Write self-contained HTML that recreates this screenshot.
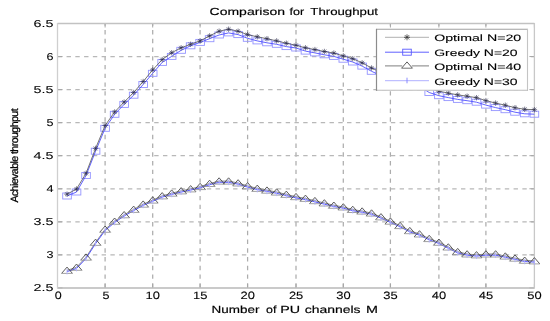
<!DOCTYPE html><html><head><meta charset="utf-8"><style>html,body{margin:0;padding:0;background:#fff;}svg{display:block;}text{font-family:"Liberation Sans",Arial,sans-serif;fill:#000;text-rendering:geometricPrecision;}</style></head><body>
<svg width="550" height="321" viewBox="0 0 550 321">
<rect width="550" height="321" fill="#fff"/>
<line x1="105.10" y1="23.50" x2="105.10" y2="287.90" stroke="#adadad" stroke-width="1.25" stroke-dasharray="4.4 4.33" stroke-dashoffset="2.2"/>
<line x1="152.70" y1="23.50" x2="152.70" y2="287.90" stroke="#adadad" stroke-width="1.25" stroke-dasharray="4.4 4.33" stroke-dashoffset="2.2"/>
<line x1="200.10" y1="23.50" x2="200.10" y2="287.90" stroke="#adadad" stroke-width="1.25" stroke-dasharray="4.4 4.33" stroke-dashoffset="2.2"/>
<line x1="247.60" y1="23.50" x2="247.60" y2="287.90" stroke="#adadad" stroke-width="1.25" stroke-dasharray="4.4 4.33" stroke-dashoffset="2.2"/>
<line x1="296.00" y1="23.50" x2="296.00" y2="287.90" stroke="#adadad" stroke-width="1.25" stroke-dasharray="4.4 4.33" stroke-dashoffset="2.2"/>
<line x1="343.30" y1="23.50" x2="343.30" y2="287.90" stroke="#adadad" stroke-width="1.25" stroke-dasharray="4.4 4.33" stroke-dashoffset="2.2"/>
<line x1="390.40" y1="23.50" x2="390.40" y2="287.90" stroke="#adadad" stroke-width="1.25" stroke-dasharray="4.4 4.33" stroke-dashoffset="2.2"/>
<line x1="438.90" y1="23.50" x2="438.90" y2="287.90" stroke="#adadad" stroke-width="1.25" stroke-dasharray="4.4 4.33" stroke-dashoffset="2.2"/>
<line x1="485.90" y1="23.50" x2="485.90" y2="287.90" stroke="#adadad" stroke-width="1.25" stroke-dasharray="4.4 4.33" stroke-dashoffset="2.2"/>
<line x1="57.50" y1="254.85" x2="534.40" y2="254.85" stroke="#b8b8b8" stroke-width="1.25" stroke-dasharray="4.4 4.365" stroke-dashoffset="-0.3"/>
<line x1="57.50" y1="221.80" x2="534.40" y2="221.80" stroke="#b8b8b8" stroke-width="1.25" stroke-dasharray="4.4 4.365" stroke-dashoffset="-0.3"/>
<line x1="57.50" y1="188.75" x2="534.40" y2="188.75" stroke="#b8b8b8" stroke-width="1.25" stroke-dasharray="4.4 4.365" stroke-dashoffset="-0.3"/>
<line x1="57.50" y1="155.70" x2="534.40" y2="155.70" stroke="#b8b8b8" stroke-width="1.25" stroke-dasharray="4.4 4.365" stroke-dashoffset="-0.3"/>
<line x1="57.50" y1="122.65" x2="534.40" y2="122.65" stroke="#b8b8b8" stroke-width="1.25" stroke-dasharray="4.4 4.365" stroke-dashoffset="-0.3"/>
<line x1="57.50" y1="89.60" x2="534.40" y2="89.60" stroke="#b8b8b8" stroke-width="1.25" stroke-dasharray="4.4 4.365" stroke-dashoffset="-0.3"/>
<line x1="57.50" y1="56.55" x2="534.40" y2="56.55" stroke="#b8b8b8" stroke-width="1.25" stroke-dasharray="4.4 4.365" stroke-dashoffset="-0.3"/>
<line x1="57.50" y1="287.90" x2="57.50" y2="283.90" stroke="#a6a6a6" stroke-width="1"/>
<line x1="57.50" y1="23.50" x2="57.50" y2="27.50" stroke="#a6a6a6" stroke-width="1"/>
<line x1="105.10" y1="287.90" x2="105.10" y2="283.90" stroke="#a6a6a6" stroke-width="1"/>
<line x1="105.10" y1="23.50" x2="105.10" y2="27.50" stroke="#a6a6a6" stroke-width="1"/>
<line x1="152.70" y1="287.90" x2="152.70" y2="283.90" stroke="#a6a6a6" stroke-width="1"/>
<line x1="152.70" y1="23.50" x2="152.70" y2="27.50" stroke="#a6a6a6" stroke-width="1"/>
<line x1="200.10" y1="287.90" x2="200.10" y2="283.90" stroke="#a6a6a6" stroke-width="1"/>
<line x1="200.10" y1="23.50" x2="200.10" y2="27.50" stroke="#a6a6a6" stroke-width="1"/>
<line x1="247.60" y1="287.90" x2="247.60" y2="283.90" stroke="#a6a6a6" stroke-width="1"/>
<line x1="247.60" y1="23.50" x2="247.60" y2="27.50" stroke="#a6a6a6" stroke-width="1"/>
<line x1="296.00" y1="287.90" x2="296.00" y2="283.90" stroke="#a6a6a6" stroke-width="1"/>
<line x1="296.00" y1="23.50" x2="296.00" y2="27.50" stroke="#a6a6a6" stroke-width="1"/>
<line x1="343.30" y1="287.90" x2="343.30" y2="283.90" stroke="#a6a6a6" stroke-width="1"/>
<line x1="343.30" y1="23.50" x2="343.30" y2="27.50" stroke="#a6a6a6" stroke-width="1"/>
<line x1="390.40" y1="287.90" x2="390.40" y2="283.90" stroke="#a6a6a6" stroke-width="1"/>
<line x1="390.40" y1="23.50" x2="390.40" y2="27.50" stroke="#a6a6a6" stroke-width="1"/>
<line x1="438.90" y1="287.90" x2="438.90" y2="283.90" stroke="#a6a6a6" stroke-width="1"/>
<line x1="438.90" y1="23.50" x2="438.90" y2="27.50" stroke="#a6a6a6" stroke-width="1"/>
<line x1="485.90" y1="287.90" x2="485.90" y2="283.90" stroke="#a6a6a6" stroke-width="1"/>
<line x1="485.90" y1="23.50" x2="485.90" y2="27.50" stroke="#a6a6a6" stroke-width="1"/>
<line x1="534.40" y1="287.90" x2="534.40" y2="283.90" stroke="#a6a6a6" stroke-width="1"/>
<line x1="534.40" y1="23.50" x2="534.40" y2="27.50" stroke="#a6a6a6" stroke-width="1"/>
<line x1="57.50" y1="287.90" x2="62.50" y2="287.90" stroke="#a6a6a6" stroke-width="1"/>
<line x1="534.40" y1="287.90" x2="529.40" y2="287.90" stroke="#a6a6a6" stroke-width="1"/>
<line x1="57.50" y1="254.85" x2="62.50" y2="254.85" stroke="#a6a6a6" stroke-width="1"/>
<line x1="534.40" y1="254.85" x2="529.40" y2="254.85" stroke="#a6a6a6" stroke-width="1"/>
<line x1="57.50" y1="221.80" x2="62.50" y2="221.80" stroke="#a6a6a6" stroke-width="1"/>
<line x1="534.40" y1="221.80" x2="529.40" y2="221.80" stroke="#a6a6a6" stroke-width="1"/>
<line x1="57.50" y1="188.75" x2="62.50" y2="188.75" stroke="#a6a6a6" stroke-width="1"/>
<line x1="534.40" y1="188.75" x2="529.40" y2="188.75" stroke="#a6a6a6" stroke-width="1"/>
<line x1="57.50" y1="155.70" x2="62.50" y2="155.70" stroke="#a6a6a6" stroke-width="1"/>
<line x1="534.40" y1="155.70" x2="529.40" y2="155.70" stroke="#a6a6a6" stroke-width="1"/>
<line x1="57.50" y1="122.65" x2="62.50" y2="122.65" stroke="#a6a6a6" stroke-width="1"/>
<line x1="534.40" y1="122.65" x2="529.40" y2="122.65" stroke="#a6a6a6" stroke-width="1"/>
<line x1="57.50" y1="89.60" x2="62.50" y2="89.60" stroke="#a6a6a6" stroke-width="1"/>
<line x1="534.40" y1="89.60" x2="529.40" y2="89.60" stroke="#a6a6a6" stroke-width="1"/>
<line x1="57.50" y1="56.55" x2="62.50" y2="56.55" stroke="#a6a6a6" stroke-width="1"/>
<line x1="534.40" y1="56.55" x2="529.40" y2="56.55" stroke="#a6a6a6" stroke-width="1"/>
<line x1="57.50" y1="23.50" x2="62.50" y2="23.50" stroke="#a6a6a6" stroke-width="1"/>
<line x1="534.40" y1="23.50" x2="529.40" y2="23.50" stroke="#a6a6a6" stroke-width="1"/>
<path d="M57.50,23.50H534.40" stroke="#c2c2c2" stroke-width="1.3" fill="none"/>
<path d="M57.50,287.90H534.40" stroke="#b8b8b8" stroke-width="1.5" fill="none"/>
<path d="M57.50,22.90V288.60" stroke="#cfcfcf" stroke-width="1.3" fill="none"/>
<path d="M534.40,22.90V288.60" stroke="#c8c8c8" stroke-width="1.3" fill="none"/>
<polyline points="67.02,270.40 76.54,267.30 86.06,257.20 95.58,242.40 105.10,229.30 114.62,221.30 124.14,214.80 133.66,209.40 143.18,204.20 152.70,200.10 162.18,195.90 171.66,193.20 181.14,190.90 190.62,188.90 200.10,186.60 209.60,183.50 219.10,181.10 228.60,181.10 238.10,183.00 247.60,185.90 257.28,188.40 266.96,190.20 276.64,192.10 286.32,194.40 296.00,196.70 305.46,198.40 314.92,200.70 324.38,203.00 333.84,205.30 343.30,207.00 352.72,209.50 362.14,211.10 371.56,213.10 380.98,216.90 390.40,221.20 400.10,225.60 409.80,230.70 419.50,234.00 429.20,238.60 438.90,242.30 448.30,247.05 457.70,251.70 467.10,254.00 476.50,254.90 485.90,254.00 495.60,254.00 505.30,256.10 515.00,258.20 524.70,260.30 534.40,260.90" fill="none" stroke="#8a8a8a" stroke-width="1"/>
<polyline points="67.02,271.60 76.54,268.50 86.06,258.40 95.58,243.60 105.10,230.50 114.62,222.50 124.14,216.00 133.66,210.60 143.18,205.40 152.70,201.30 162.18,197.10 171.66,194.40 181.14,192.10 190.62,190.10 200.10,187.80 209.60,184.70 219.10,182.30 228.60,182.30 238.10,184.20 247.60,187.10 257.28,189.60 266.96,191.40 276.64,193.30 286.32,195.60 296.00,197.90 305.46,199.60 314.92,201.90 324.38,204.20 333.84,206.50 343.30,208.20 352.72,210.70 362.14,212.30 371.56,214.30 380.98,218.10 390.40,222.40 400.10,226.80 409.80,231.90 419.50,235.20 429.20,239.80 438.90,243.50 448.30,248.25 457.70,252.90 467.10,255.20 476.50,256.10 485.90,255.20 495.60,255.20 505.30,257.30 515.00,259.40 524.70,261.50 534.40,262.10" fill="none" stroke="#5252ff" stroke-width="0.95"/>
<path d="M61.62,273.40L67.02,267.10L72.42,273.40" fill="none" stroke="#404040" stroke-width="0.85"/><path d="M61.62,273.40H72.42" stroke="#8a8a8a" stroke-width="0.8"/>
<path d="M71.14,270.30L76.54,264.00L81.94,270.30" fill="none" stroke="#404040" stroke-width="0.85"/><path d="M71.14,270.30H81.94" stroke="#8a8a8a" stroke-width="0.8"/>
<path d="M80.66,260.20L86.06,253.90L91.46,260.20" fill="none" stroke="#404040" stroke-width="0.85"/><path d="M80.66,260.20H91.46" stroke="#8a8a8a" stroke-width="0.8"/>
<path d="M90.18,245.40L95.58,239.10L100.98,245.40" fill="none" stroke="#404040" stroke-width="0.85"/><path d="M90.18,245.40H100.98" stroke="#8a8a8a" stroke-width="0.8"/>
<path d="M99.70,232.30L105.10,226.00L110.50,232.30" fill="none" stroke="#404040" stroke-width="0.85"/><path d="M99.70,232.30H110.50" stroke="#8a8a8a" stroke-width="0.8"/>
<path d="M109.22,224.30L114.62,218.00L120.02,224.30" fill="none" stroke="#404040" stroke-width="0.85"/><path d="M109.22,224.30H120.02" stroke="#8a8a8a" stroke-width="0.8"/>
<path d="M118.74,217.80L124.14,211.50L129.54,217.80" fill="none" stroke="#404040" stroke-width="0.85"/><path d="M118.74,217.80H129.54" stroke="#8a8a8a" stroke-width="0.8"/>
<path d="M128.26,212.40L133.66,206.10L139.06,212.40" fill="none" stroke="#404040" stroke-width="0.85"/><path d="M128.26,212.40H139.06" stroke="#8a8a8a" stroke-width="0.8"/>
<path d="M137.78,207.20L143.18,200.90L148.58,207.20" fill="none" stroke="#404040" stroke-width="0.85"/><path d="M137.78,207.20H148.58" stroke="#8a8a8a" stroke-width="0.8"/>
<path d="M147.30,203.10L152.70,196.80L158.10,203.10" fill="none" stroke="#404040" stroke-width="0.85"/><path d="M147.30,203.10H158.10" stroke="#8a8a8a" stroke-width="0.8"/>
<path d="M156.78,198.90L162.18,192.60L167.58,198.90" fill="none" stroke="#404040" stroke-width="0.85"/><path d="M156.78,198.90H167.58" stroke="#8a8a8a" stroke-width="0.8"/>
<path d="M166.26,196.20L171.66,189.90L177.06,196.20" fill="none" stroke="#404040" stroke-width="0.85"/><path d="M166.26,196.20H177.06" stroke="#8a8a8a" stroke-width="0.8"/>
<path d="M175.74,193.90L181.14,187.60L186.54,193.90" fill="none" stroke="#404040" stroke-width="0.85"/><path d="M175.74,193.90H186.54" stroke="#8a8a8a" stroke-width="0.8"/>
<path d="M185.22,191.90L190.62,185.60L196.02,191.90" fill="none" stroke="#404040" stroke-width="0.85"/><path d="M185.22,191.90H196.02" stroke="#8a8a8a" stroke-width="0.8"/>
<path d="M194.70,189.60L200.10,183.30L205.50,189.60" fill="none" stroke="#404040" stroke-width="0.85"/><path d="M194.70,189.60H205.50" stroke="#8a8a8a" stroke-width="0.8"/>
<path d="M204.20,186.50L209.60,180.20L215.00,186.50" fill="none" stroke="#404040" stroke-width="0.85"/><path d="M204.20,186.50H215.00" stroke="#8a8a8a" stroke-width="0.8"/>
<path d="M213.70,184.10L219.10,177.80L224.50,184.10" fill="none" stroke="#404040" stroke-width="0.85"/><path d="M213.70,184.10H224.50" stroke="#8a8a8a" stroke-width="0.8"/>
<path d="M223.20,184.10L228.60,177.80L234.00,184.10" fill="none" stroke="#404040" stroke-width="0.85"/><path d="M223.20,184.10H234.00" stroke="#8a8a8a" stroke-width="0.8"/>
<path d="M232.70,186.00L238.10,179.70L243.50,186.00" fill="none" stroke="#404040" stroke-width="0.85"/><path d="M232.70,186.00H243.50" stroke="#8a8a8a" stroke-width="0.8"/>
<path d="M242.20,188.90L247.60,182.60L253.00,188.90" fill="none" stroke="#404040" stroke-width="0.85"/><path d="M242.20,188.90H253.00" stroke="#8a8a8a" stroke-width="0.8"/>
<path d="M251.88,191.40L257.28,185.10L262.68,191.40" fill="none" stroke="#404040" stroke-width="0.85"/><path d="M251.88,191.40H262.68" stroke="#8a8a8a" stroke-width="0.8"/>
<path d="M261.56,193.20L266.96,186.90L272.36,193.20" fill="none" stroke="#404040" stroke-width="0.85"/><path d="M261.56,193.20H272.36" stroke="#8a8a8a" stroke-width="0.8"/>
<path d="M271.24,195.10L276.64,188.80L282.04,195.10" fill="none" stroke="#404040" stroke-width="0.85"/><path d="M271.24,195.10H282.04" stroke="#8a8a8a" stroke-width="0.8"/>
<path d="M280.92,197.40L286.32,191.10L291.72,197.40" fill="none" stroke="#404040" stroke-width="0.85"/><path d="M280.92,197.40H291.72" stroke="#8a8a8a" stroke-width="0.8"/>
<path d="M290.60,199.70L296.00,193.40L301.40,199.70" fill="none" stroke="#404040" stroke-width="0.85"/><path d="M290.60,199.70H301.40" stroke="#8a8a8a" stroke-width="0.8"/>
<path d="M300.06,201.40L305.46,195.10L310.86,201.40" fill="none" stroke="#404040" stroke-width="0.85"/><path d="M300.06,201.40H310.86" stroke="#8a8a8a" stroke-width="0.8"/>
<path d="M309.52,203.70L314.92,197.40L320.32,203.70" fill="none" stroke="#404040" stroke-width="0.85"/><path d="M309.52,203.70H320.32" stroke="#8a8a8a" stroke-width="0.8"/>
<path d="M318.98,206.00L324.38,199.70L329.78,206.00" fill="none" stroke="#404040" stroke-width="0.85"/><path d="M318.98,206.00H329.78" stroke="#8a8a8a" stroke-width="0.8"/>
<path d="M328.44,208.30L333.84,202.00L339.24,208.30" fill="none" stroke="#404040" stroke-width="0.85"/><path d="M328.44,208.30H339.24" stroke="#8a8a8a" stroke-width="0.8"/>
<path d="M337.90,210.00L343.30,203.70L348.70,210.00" fill="none" stroke="#404040" stroke-width="0.85"/><path d="M337.90,210.00H348.70" stroke="#8a8a8a" stroke-width="0.8"/>
<path d="M347.32,212.50L352.72,206.20L358.12,212.50" fill="none" stroke="#404040" stroke-width="0.85"/><path d="M347.32,212.50H358.12" stroke="#8a8a8a" stroke-width="0.8"/>
<path d="M356.74,214.10L362.14,207.80L367.54,214.10" fill="none" stroke="#404040" stroke-width="0.85"/><path d="M356.74,214.10H367.54" stroke="#8a8a8a" stroke-width="0.8"/>
<path d="M366.16,216.10L371.56,209.80L376.96,216.10" fill="none" stroke="#404040" stroke-width="0.85"/><path d="M366.16,216.10H376.96" stroke="#8a8a8a" stroke-width="0.8"/>
<path d="M375.58,219.90L380.98,213.60L386.38,219.90" fill="none" stroke="#404040" stroke-width="0.85"/><path d="M375.58,219.90H386.38" stroke="#8a8a8a" stroke-width="0.8"/>
<path d="M385.00,224.20L390.40,217.90L395.80,224.20" fill="none" stroke="#404040" stroke-width="0.85"/><path d="M385.00,224.20H395.80" stroke="#8a8a8a" stroke-width="0.8"/>
<path d="M394.70,228.60L400.10,222.30L405.50,228.60" fill="none" stroke="#404040" stroke-width="0.85"/><path d="M394.70,228.60H405.50" stroke="#8a8a8a" stroke-width="0.8"/>
<path d="M404.40,233.70L409.80,227.40L415.20,233.70" fill="none" stroke="#404040" stroke-width="0.85"/><path d="M404.40,233.70H415.20" stroke="#8a8a8a" stroke-width="0.8"/>
<path d="M414.10,237.00L419.50,230.70L424.90,237.00" fill="none" stroke="#404040" stroke-width="0.85"/><path d="M414.10,237.00H424.90" stroke="#8a8a8a" stroke-width="0.8"/>
<path d="M423.80,241.60L429.20,235.30L434.60,241.60" fill="none" stroke="#404040" stroke-width="0.85"/><path d="M423.80,241.60H434.60" stroke="#8a8a8a" stroke-width="0.8"/>
<path d="M433.50,245.30L438.90,239.00L444.30,245.30" fill="none" stroke="#404040" stroke-width="0.85"/><path d="M433.50,245.30H444.30" stroke="#8a8a8a" stroke-width="0.8"/>
<path d="M442.90,250.05L448.30,243.75L453.70,250.05" fill="none" stroke="#404040" stroke-width="0.85"/><path d="M442.90,250.05H453.70" stroke="#8a8a8a" stroke-width="0.8"/>
<path d="M452.30,254.70L457.70,248.40L463.10,254.70" fill="none" stroke="#404040" stroke-width="0.85"/><path d="M452.30,254.70H463.10" stroke="#8a8a8a" stroke-width="0.8"/>
<path d="M461.70,257.00L467.10,250.70L472.50,257.00" fill="none" stroke="#404040" stroke-width="0.85"/><path d="M461.70,257.00H472.50" stroke="#8a8a8a" stroke-width="0.8"/>
<path d="M471.10,257.90L476.50,251.60L481.90,257.90" fill="none" stroke="#404040" stroke-width="0.85"/><path d="M471.10,257.90H481.90" stroke="#8a8a8a" stroke-width="0.8"/>
<path d="M480.50,257.00L485.90,250.70L491.30,257.00" fill="none" stroke="#404040" stroke-width="0.85"/><path d="M480.50,257.00H491.30" stroke="#8a8a8a" stroke-width="0.8"/>
<path d="M490.20,257.00L495.60,250.70L501.00,257.00" fill="none" stroke="#404040" stroke-width="0.85"/><path d="M490.20,257.00H501.00" stroke="#8a8a8a" stroke-width="0.8"/>
<path d="M499.90,259.10L505.30,252.80L510.70,259.10" fill="none" stroke="#404040" stroke-width="0.85"/><path d="M499.90,259.10H510.70" stroke="#8a8a8a" stroke-width="0.8"/>
<path d="M509.60,261.20L515.00,254.90L520.40,261.20" fill="none" stroke="#404040" stroke-width="0.85"/><path d="M509.60,261.20H520.40" stroke="#8a8a8a" stroke-width="0.8"/>
<path d="M519.30,263.30L524.70,257.00L530.10,263.30" fill="none" stroke="#404040" stroke-width="0.85"/><path d="M519.30,263.30H530.10" stroke="#8a8a8a" stroke-width="0.8"/>
<path d="M529.00,263.90L534.40,257.60L539.80,263.90" fill="none" stroke="#404040" stroke-width="0.85"/><path d="M529.00,263.90H539.80" stroke="#8a8a8a" stroke-width="0.8"/>
<path d="M67.02,268.80v5.60" stroke="#b0b0ff" stroke-width="0.9"/>
<path d="M76.54,265.70v5.60" stroke="#b0b0ff" stroke-width="0.9"/>
<path d="M86.06,255.60v5.60" stroke="#b0b0ff" stroke-width="0.9"/>
<path d="M95.58,240.80v5.60" stroke="#b0b0ff" stroke-width="0.9"/>
<path d="M105.10,227.70v5.60" stroke="#b0b0ff" stroke-width="0.9"/>
<path d="M114.62,219.70v5.60" stroke="#b0b0ff" stroke-width="0.9"/>
<path d="M124.14,213.20v5.60" stroke="#b0b0ff" stroke-width="0.9"/>
<path d="M133.66,207.80v5.60" stroke="#b0b0ff" stroke-width="0.9"/>
<path d="M143.18,202.60v5.60" stroke="#b0b0ff" stroke-width="0.9"/>
<path d="M152.70,198.50v5.60" stroke="#b0b0ff" stroke-width="0.9"/>
<path d="M162.18,194.30v5.60" stroke="#b0b0ff" stroke-width="0.9"/>
<path d="M171.66,191.60v5.60" stroke="#b0b0ff" stroke-width="0.9"/>
<path d="M181.14,189.30v5.60" stroke="#b0b0ff" stroke-width="0.9"/>
<path d="M190.62,187.30v5.60" stroke="#b0b0ff" stroke-width="0.9"/>
<path d="M200.10,185.00v5.60" stroke="#b0b0ff" stroke-width="0.9"/>
<path d="M209.60,181.90v5.60" stroke="#b0b0ff" stroke-width="0.9"/>
<path d="M219.10,179.50v5.60" stroke="#b0b0ff" stroke-width="0.9"/>
<path d="M228.60,179.50v5.60" stroke="#b0b0ff" stroke-width="0.9"/>
<path d="M238.10,181.40v5.60" stroke="#b0b0ff" stroke-width="0.9"/>
<path d="M247.60,184.30v5.60" stroke="#b0b0ff" stroke-width="0.9"/>
<path d="M257.28,186.80v5.60" stroke="#b0b0ff" stroke-width="0.9"/>
<path d="M266.96,188.60v5.60" stroke="#b0b0ff" stroke-width="0.9"/>
<path d="M276.64,190.50v5.60" stroke="#b0b0ff" stroke-width="0.9"/>
<path d="M286.32,192.80v5.60" stroke="#b0b0ff" stroke-width="0.9"/>
<path d="M296.00,195.10v5.60" stroke="#b0b0ff" stroke-width="0.9"/>
<path d="M305.46,196.80v5.60" stroke="#b0b0ff" stroke-width="0.9"/>
<path d="M314.92,199.10v5.60" stroke="#b0b0ff" stroke-width="0.9"/>
<path d="M324.38,201.40v5.60" stroke="#b0b0ff" stroke-width="0.9"/>
<path d="M333.84,203.70v5.60" stroke="#b0b0ff" stroke-width="0.9"/>
<path d="M343.30,205.40v5.60" stroke="#b0b0ff" stroke-width="0.9"/>
<path d="M352.72,207.90v5.60" stroke="#b0b0ff" stroke-width="0.9"/>
<path d="M362.14,209.50v5.60" stroke="#b0b0ff" stroke-width="0.9"/>
<path d="M371.56,211.50v5.60" stroke="#b0b0ff" stroke-width="0.9"/>
<path d="M380.98,215.30v5.60" stroke="#b0b0ff" stroke-width="0.9"/>
<path d="M390.40,219.60v5.60" stroke="#b0b0ff" stroke-width="0.9"/>
<path d="M400.10,224.00v5.60" stroke="#b0b0ff" stroke-width="0.9"/>
<path d="M409.80,229.10v5.60" stroke="#b0b0ff" stroke-width="0.9"/>
<path d="M419.50,232.40v5.60" stroke="#b0b0ff" stroke-width="0.9"/>
<path d="M429.20,237.00v5.60" stroke="#b0b0ff" stroke-width="0.9"/>
<path d="M438.90,240.70v5.60" stroke="#b0b0ff" stroke-width="0.9"/>
<path d="M448.30,245.45v5.60" stroke="#b0b0ff" stroke-width="0.9"/>
<path d="M457.70,250.10v5.60" stroke="#b0b0ff" stroke-width="0.9"/>
<path d="M467.10,252.40v5.60" stroke="#b0b0ff" stroke-width="0.9"/>
<path d="M476.50,253.30v5.60" stroke="#b0b0ff" stroke-width="0.9"/>
<path d="M485.90,252.40v5.60" stroke="#b0b0ff" stroke-width="0.9"/>
<path d="M495.60,252.40v5.60" stroke="#b0b0ff" stroke-width="0.9"/>
<path d="M505.30,254.50v5.60" stroke="#b0b0ff" stroke-width="0.9"/>
<path d="M515.00,256.60v5.60" stroke="#b0b0ff" stroke-width="0.9"/>
<path d="M524.70,258.70v5.60" stroke="#b0b0ff" stroke-width="0.9"/>
<path d="M534.40,259.30v5.60" stroke="#b0b0ff" stroke-width="0.9"/>
<rect x="62.72" y="193.00" width="8.6" height="6" fill="none" stroke="#9494ff" stroke-width="0.9"/>
<rect x="72.24" y="189.00" width="8.6" height="6" fill="none" stroke="#9494ff" stroke-width="0.9"/>
<rect x="81.76" y="172.50" width="8.6" height="6" fill="none" stroke="#9494ff" stroke-width="0.9"/>
<rect x="91.28" y="148.20" width="8.6" height="6" fill="none" stroke="#9494ff" stroke-width="0.9"/>
<rect x="100.80" y="125.30" width="8.6" height="6" fill="none" stroke="#9494ff" stroke-width="0.9"/>
<rect x="110.32" y="111.30" width="8.6" height="6" fill="none" stroke="#9494ff" stroke-width="0.9"/>
<rect x="119.84" y="101.40" width="8.6" height="6" fill="none" stroke="#9494ff" stroke-width="0.9"/>
<rect x="129.36" y="92.20" width="8.6" height="6" fill="none" stroke="#9494ff" stroke-width="0.9"/>
<rect x="138.88" y="81.50" width="8.6" height="6" fill="none" stroke="#9494ff" stroke-width="0.9"/>
<rect x="148.40" y="70.30" width="8.6" height="6" fill="none" stroke="#9494ff" stroke-width="0.9"/>
<rect x="157.88" y="59.40" width="8.6" height="6" fill="none" stroke="#9494ff" stroke-width="0.9"/>
<rect x="167.36" y="53.40" width="8.6" height="6" fill="none" stroke="#9494ff" stroke-width="0.9"/>
<rect x="176.84" y="47.30" width="8.6" height="6" fill="none" stroke="#9494ff" stroke-width="0.9"/>
<rect x="186.32" y="42.80" width="8.6" height="6" fill="none" stroke="#9494ff" stroke-width="0.9"/>
<rect x="195.80" y="39.40" width="8.6" height="6" fill="none" stroke="#9494ff" stroke-width="0.9"/>
<rect x="205.30" y="35.70" width="8.6" height="6" fill="none" stroke="#9494ff" stroke-width="0.9"/>
<rect x="214.80" y="32.00" width="8.6" height="6" fill="none" stroke="#9494ff" stroke-width="0.9"/>
<rect x="224.30" y="29.90" width="8.6" height="6" fill="none" stroke="#9494ff" stroke-width="0.9"/>
<rect x="233.80" y="31.60" width="8.6" height="6" fill="none" stroke="#9494ff" stroke-width="0.9"/>
<rect x="243.30" y="35.30" width="8.6" height="6" fill="none" stroke="#9494ff" stroke-width="0.9"/>
<rect x="252.98" y="37.90" width="8.6" height="6" fill="none" stroke="#9494ff" stroke-width="0.9"/>
<rect x="262.66" y="39.80" width="8.6" height="6" fill="none" stroke="#9494ff" stroke-width="0.9"/>
<rect x="272.34" y="41.30" width="8.6" height="6" fill="none" stroke="#9494ff" stroke-width="0.9"/>
<rect x="282.02" y="43.60" width="8.6" height="6" fill="none" stroke="#9494ff" stroke-width="0.9"/>
<rect x="291.70" y="45.00" width="8.6" height="6" fill="none" stroke="#9494ff" stroke-width="0.9"/>
<rect x="301.16" y="48.10" width="8.6" height="6" fill="none" stroke="#9494ff" stroke-width="0.9"/>
<rect x="310.62" y="49.90" width="8.6" height="6" fill="none" stroke="#9494ff" stroke-width="0.9"/>
<rect x="320.08" y="51.80" width="8.6" height="6" fill="none" stroke="#9494ff" stroke-width="0.9"/>
<rect x="329.54" y="53.40" width="8.6" height="6" fill="none" stroke="#9494ff" stroke-width="0.9"/>
<rect x="339.00" y="56.20" width="8.6" height="6" fill="none" stroke="#9494ff" stroke-width="0.9"/>
<rect x="348.42" y="59.00" width="8.6" height="6" fill="none" stroke="#9494ff" stroke-width="0.9"/>
<rect x="357.84" y="63.10" width="8.6" height="6" fill="none" stroke="#9494ff" stroke-width="0.9"/>
<rect x="367.26" y="68.30" width="8.6" height="6" fill="none" stroke="#9494ff" stroke-width="0.9"/>
<rect x="376.68" y="72.60" width="8.6" height="6" fill="none" stroke="#9494ff" stroke-width="0.9"/>
<rect x="386.10" y="76.30" width="8.6" height="6" fill="none" stroke="#9494ff" stroke-width="0.9"/>
<rect x="395.80" y="79.30" width="8.6" height="6" fill="none" stroke="#9494ff" stroke-width="0.9"/>
<rect x="405.50" y="81.50" width="8.6" height="6" fill="none" stroke="#9494ff" stroke-width="0.9"/>
<rect x="415.20" y="83.30" width="8.6" height="6" fill="none" stroke="#9494ff" stroke-width="0.9"/>
<rect x="424.90" y="89.50" width="8.6" height="6" fill="none" stroke="#9494ff" stroke-width="0.9"/>
<rect x="434.60" y="92.70" width="8.6" height="6" fill="none" stroke="#9494ff" stroke-width="0.9"/>
<rect x="444.00" y="94.60" width="8.6" height="6" fill="none" stroke="#9494ff" stroke-width="0.9"/>
<rect x="453.40" y="96.40" width="8.6" height="6" fill="none" stroke="#9494ff" stroke-width="0.9"/>
<rect x="462.80" y="97.70" width="8.6" height="6" fill="none" stroke="#9494ff" stroke-width="0.9"/>
<rect x="472.20" y="99.20" width="8.6" height="6" fill="none" stroke="#9494ff" stroke-width="0.9"/>
<rect x="481.60" y="102.10" width="8.6" height="6" fill="none" stroke="#9494ff" stroke-width="0.9"/>
<rect x="491.30" y="104.60" width="8.6" height="6" fill="none" stroke="#9494ff" stroke-width="0.9"/>
<rect x="501.00" y="106.70" width="8.6" height="6" fill="none" stroke="#9494ff" stroke-width="0.9"/>
<rect x="510.70" y="109.20" width="8.6" height="6" fill="none" stroke="#9494ff" stroke-width="0.9"/>
<rect x="520.40" y="110.80" width="8.6" height="6" fill="none" stroke="#9494ff" stroke-width="0.9"/>
<rect x="530.10" y="111.20" width="8.6" height="6" fill="none" stroke="#9494ff" stroke-width="0.9"/>
<polyline points="67.02,196.00 76.54,192.00 86.06,175.50 95.58,151.20 105.10,128.30 114.62,114.30 124.14,104.40 133.66,95.20 143.18,84.50 152.70,73.30 162.18,62.40 171.66,56.40 181.14,50.30 190.62,45.80 200.10,42.40 209.60,38.70 219.10,35.00 228.60,32.90 238.10,34.60 247.60,38.30 257.28,40.90 266.96,42.80 276.64,44.30 286.32,46.60 296.00,48.00 305.46,51.10 314.92,52.90 324.38,54.80 333.84,56.40 343.30,59.20 352.72,62.00 362.14,66.10 371.56,71.30 380.98,75.60 390.40,79.30 400.10,82.30 409.80,84.50 419.50,86.30 429.20,92.50 438.90,95.70 448.30,97.60 457.70,99.40 467.10,100.70 476.50,102.20 485.90,105.10 495.60,107.60 505.30,109.70 515.00,112.20 524.70,113.80 534.40,114.20" fill="none" stroke="#5050ff" stroke-width="0.9"/>
<polyline points="67.02,194.20 76.54,189.00 86.06,173.30 95.58,148.40 105.10,125.50 114.62,112.00 124.14,102.10 133.66,92.50 143.18,81.50 152.70,69.90 162.18,59.60 171.66,52.70 181.14,47.80 190.62,44.30 200.10,40.90 209.60,35.90 219.10,31.20 228.60,29.20 238.10,31.20 247.60,34.60 257.28,36.80 266.96,38.70 276.64,40.90 286.32,43.20 296.00,45.30 305.46,47.80 314.92,49.60 324.38,51.50 333.84,53.10 343.30,55.90 352.72,58.70 362.14,62.80 371.56,68.00 380.98,72.30 390.40,76.00 400.10,79.00 409.80,81.20 419.50,83.00 429.20,88.00 438.90,91.20 448.30,93.10 457.70,94.90 467.10,96.20 476.50,97.70 485.90,100.60 495.60,103.10 505.30,105.20 515.00,107.70 524.70,109.30 534.40,109.70" fill="none" stroke="#505050" stroke-width="0.8"/>
<path d="M64.32,194.20h5.40M67.02,191.50v5.40M65.08,192.26l3.89,3.89M65.08,196.14l3.89,-3.89" stroke="#2a2a4a" stroke-width="0.6" fill="none"/>
<path d="M73.84,189.00h5.40M76.54,186.30v5.40M74.60,187.06l3.89,3.89M74.60,190.94l3.89,-3.89" stroke="#2a2a4a" stroke-width="0.6" fill="none"/>
<path d="M83.36,173.30h5.40M86.06,170.60v5.40M84.12,171.36l3.89,3.89M84.12,175.24l3.89,-3.89" stroke="#2a2a4a" stroke-width="0.6" fill="none"/>
<path d="M92.88,148.40h5.40M95.58,145.70v5.40M93.64,146.46l3.89,3.89M93.64,150.34l3.89,-3.89" stroke="#2a2a4a" stroke-width="0.6" fill="none"/>
<path d="M102.40,125.50h5.40M105.10,122.80v5.40M103.16,123.56l3.89,3.89M103.16,127.44l3.89,-3.89" stroke="#2a2a4a" stroke-width="0.6" fill="none"/>
<path d="M111.92,112.00h5.40M114.62,109.30v5.40M112.68,110.06l3.89,3.89M112.68,113.94l3.89,-3.89" stroke="#2a2a4a" stroke-width="0.6" fill="none"/>
<path d="M121.44,102.10h5.40M124.14,99.40v5.40M122.20,100.16l3.89,3.89M122.20,104.04l3.89,-3.89" stroke="#2a2a4a" stroke-width="0.6" fill="none"/>
<path d="M130.96,92.50h5.40M133.66,89.80v5.40M131.72,90.56l3.89,3.89M131.72,94.44l3.89,-3.89" stroke="#2a2a4a" stroke-width="0.6" fill="none"/>
<path d="M140.48,81.50h5.40M143.18,78.80v5.40M141.24,79.56l3.89,3.89M141.24,83.44l3.89,-3.89" stroke="#2a2a4a" stroke-width="0.6" fill="none"/>
<path d="M150.00,69.90h5.40M152.70,67.20v5.40M150.76,67.96l3.89,3.89M150.76,71.84l3.89,-3.89" stroke="#2a2a4a" stroke-width="0.6" fill="none"/>
<path d="M159.48,59.60h5.40M162.18,56.90v5.40M160.24,57.66l3.89,3.89M160.24,61.54l3.89,-3.89" stroke="#2a2a4a" stroke-width="0.6" fill="none"/>
<path d="M168.96,52.70h5.40M171.66,50.00v5.40M169.72,50.76l3.89,3.89M169.72,54.64l3.89,-3.89" stroke="#2a2a4a" stroke-width="0.6" fill="none"/>
<path d="M178.44,47.80h5.40M181.14,45.10v5.40M179.20,45.86l3.89,3.89M179.20,49.74l3.89,-3.89" stroke="#2a2a4a" stroke-width="0.6" fill="none"/>
<path d="M187.92,44.30h5.40M190.62,41.60v5.40M188.68,42.36l3.89,3.89M188.68,46.24l3.89,-3.89" stroke="#2a2a4a" stroke-width="0.6" fill="none"/>
<path d="M197.40,40.90h5.40M200.10,38.20v5.40M198.16,38.96l3.89,3.89M198.16,42.84l3.89,-3.89" stroke="#2a2a4a" stroke-width="0.6" fill="none"/>
<path d="M206.90,35.90h5.40M209.60,33.20v5.40M207.66,33.96l3.89,3.89M207.66,37.84l3.89,-3.89" stroke="#2a2a4a" stroke-width="0.6" fill="none"/>
<path d="M216.40,31.20h5.40M219.10,28.50v5.40M217.16,29.26l3.89,3.89M217.16,33.14l3.89,-3.89" stroke="#2a2a4a" stroke-width="0.6" fill="none"/>
<path d="M225.90,29.20h5.40M228.60,26.50v5.40M226.66,27.26l3.89,3.89M226.66,31.14l3.89,-3.89" stroke="#2a2a4a" stroke-width="0.6" fill="none"/>
<path d="M235.40,31.20h5.40M238.10,28.50v5.40M236.16,29.26l3.89,3.89M236.16,33.14l3.89,-3.89" stroke="#2a2a4a" stroke-width="0.6" fill="none"/>
<path d="M244.90,34.60h5.40M247.60,31.90v5.40M245.66,32.66l3.89,3.89M245.66,36.54l3.89,-3.89" stroke="#2a2a4a" stroke-width="0.6" fill="none"/>
<path d="M254.58,36.80h5.40M257.28,34.10v5.40M255.34,34.86l3.89,3.89M255.34,38.74l3.89,-3.89" stroke="#2a2a4a" stroke-width="0.6" fill="none"/>
<path d="M264.26,38.70h5.40M266.96,36.00v5.40M265.02,36.76l3.89,3.89M265.02,40.64l3.89,-3.89" stroke="#2a2a4a" stroke-width="0.6" fill="none"/>
<path d="M273.94,40.90h5.40M276.64,38.20v5.40M274.70,38.96l3.89,3.89M274.70,42.84l3.89,-3.89" stroke="#2a2a4a" stroke-width="0.6" fill="none"/>
<path d="M283.62,43.20h5.40M286.32,40.50v5.40M284.38,41.26l3.89,3.89M284.38,45.14l3.89,-3.89" stroke="#2a2a4a" stroke-width="0.6" fill="none"/>
<path d="M293.30,45.30h5.40M296.00,42.60v5.40M294.06,43.36l3.89,3.89M294.06,47.24l3.89,-3.89" stroke="#2a2a4a" stroke-width="0.6" fill="none"/>
<path d="M302.76,47.80h5.40M305.46,45.10v5.40M303.52,45.86l3.89,3.89M303.52,49.74l3.89,-3.89" stroke="#2a2a4a" stroke-width="0.6" fill="none"/>
<path d="M312.22,49.60h5.40M314.92,46.90v5.40M312.98,47.66l3.89,3.89M312.98,51.54l3.89,-3.89" stroke="#2a2a4a" stroke-width="0.6" fill="none"/>
<path d="M321.68,51.50h5.40M324.38,48.80v5.40M322.44,49.56l3.89,3.89M322.44,53.44l3.89,-3.89" stroke="#2a2a4a" stroke-width="0.6" fill="none"/>
<path d="M331.14,53.10h5.40M333.84,50.40v5.40M331.90,51.16l3.89,3.89M331.90,55.04l3.89,-3.89" stroke="#2a2a4a" stroke-width="0.6" fill="none"/>
<path d="M340.60,55.90h5.40M343.30,53.20v5.40M341.36,53.96l3.89,3.89M341.36,57.84l3.89,-3.89" stroke="#2a2a4a" stroke-width="0.6" fill="none"/>
<path d="M350.02,58.70h5.40M352.72,56.00v5.40M350.78,56.76l3.89,3.89M350.78,60.64l3.89,-3.89" stroke="#2a2a4a" stroke-width="0.6" fill="none"/>
<path d="M359.44,62.80h5.40M362.14,60.10v5.40M360.20,60.86l3.89,3.89M360.20,64.74l3.89,-3.89" stroke="#2a2a4a" stroke-width="0.6" fill="none"/>
<path d="M368.86,68.00h5.40M371.56,65.30v5.40M369.62,66.06l3.89,3.89M369.62,69.94l3.89,-3.89" stroke="#2a2a4a" stroke-width="0.6" fill="none"/>
<path d="M378.28,72.30h5.40M380.98,69.60v5.40M379.04,70.36l3.89,3.89M379.04,74.24l3.89,-3.89" stroke="#2a2a4a" stroke-width="0.6" fill="none"/>
<path d="M387.70,76.00h5.40M390.40,73.30v5.40M388.46,74.06l3.89,3.89M388.46,77.94l3.89,-3.89" stroke="#2a2a4a" stroke-width="0.6" fill="none"/>
<path d="M397.40,79.00h5.40M400.10,76.30v5.40M398.16,77.06l3.89,3.89M398.16,80.94l3.89,-3.89" stroke="#2a2a4a" stroke-width="0.6" fill="none"/>
<path d="M407.10,81.20h5.40M409.80,78.50v5.40M407.86,79.26l3.89,3.89M407.86,83.14l3.89,-3.89" stroke="#2a2a4a" stroke-width="0.6" fill="none"/>
<path d="M416.80,83.00h5.40M419.50,80.30v5.40M417.56,81.06l3.89,3.89M417.56,84.94l3.89,-3.89" stroke="#2a2a4a" stroke-width="0.6" fill="none"/>
<path d="M426.50,88.00h5.40M429.20,85.30v5.40M427.26,86.06l3.89,3.89M427.26,89.94l3.89,-3.89" stroke="#2a2a4a" stroke-width="0.6" fill="none"/>
<path d="M436.20,91.20h5.40M438.90,88.50v5.40M436.96,89.26l3.89,3.89M436.96,93.14l3.89,-3.89" stroke="#2a2a4a" stroke-width="0.6" fill="none"/>
<path d="M445.60,93.10h5.40M448.30,90.40v5.40M446.36,91.16l3.89,3.89M446.36,95.04l3.89,-3.89" stroke="#2a2a4a" stroke-width="0.6" fill="none"/>
<path d="M455.00,94.90h5.40M457.70,92.20v5.40M455.76,92.96l3.89,3.89M455.76,96.84l3.89,-3.89" stroke="#2a2a4a" stroke-width="0.6" fill="none"/>
<path d="M464.40,96.20h5.40M467.10,93.50v5.40M465.16,94.26l3.89,3.89M465.16,98.14l3.89,-3.89" stroke="#2a2a4a" stroke-width="0.6" fill="none"/>
<path d="M473.80,97.70h5.40M476.50,95.00v5.40M474.56,95.76l3.89,3.89M474.56,99.64l3.89,-3.89" stroke="#2a2a4a" stroke-width="0.6" fill="none"/>
<path d="M483.20,100.60h5.40M485.90,97.90v5.40M483.96,98.66l3.89,3.89M483.96,102.54l3.89,-3.89" stroke="#2a2a4a" stroke-width="0.6" fill="none"/>
<path d="M492.90,103.10h5.40M495.60,100.40v5.40M493.66,101.16l3.89,3.89M493.66,105.04l3.89,-3.89" stroke="#2a2a4a" stroke-width="0.6" fill="none"/>
<path d="M502.60,105.20h5.40M505.30,102.50v5.40M503.36,103.26l3.89,3.89M503.36,107.14l3.89,-3.89" stroke="#2a2a4a" stroke-width="0.6" fill="none"/>
<path d="M512.30,107.70h5.40M515.00,105.00v5.40M513.06,105.76l3.89,3.89M513.06,109.64l3.89,-3.89" stroke="#2a2a4a" stroke-width="0.6" fill="none"/>
<path d="M522.00,109.30h5.40M524.70,106.60v5.40M522.76,107.36l3.89,3.89M522.76,111.24l3.89,-3.89" stroke="#2a2a4a" stroke-width="0.6" fill="none"/>
<path d="M531.70,109.70h5.40M534.40,107.00v5.40M532.46,107.76l3.89,3.89M532.46,111.64l3.89,-3.89" stroke="#2a2a4a" stroke-width="0.6" fill="none"/>
<rect x="376.5" y="29.3" width="151" height="61" fill="#fff"/>
<path d="M376.5,29.3H527.5" stroke="#a0a0a0" stroke-width="1.1"/>
<path d="M527.5,28.8V90.8" stroke="#c4c4c4" stroke-width="1.1"/>
<path d="M376,90.3H528" stroke="#bcbcbc" stroke-width="1.1"/>
<path d="M376.5,28.8V90.8" stroke="#8c8c8c" stroke-width="1.2"/>
<line x1="385" y1="37.3" x2="429" y2="37.3" stroke="#a8a8a8" stroke-width="0.9"/><path d="M404.00,37.30h6.00M407.00,34.30v6.00M404.84,35.14l4.32,4.32M404.84,39.46l4.32,-4.32" stroke="#303030" stroke-width="0.75" fill="none"/>
<line x1="385" y1="52.2" x2="429" y2="52.2" stroke="#6060ff" stroke-width="1"/><rect x="402.70" y="49.20" width="8.6" height="6" fill="none" stroke="#5a5aff" stroke-width="0.9"/>
<path d="M385,65.9H402.2M411.8,65.9H429" stroke="#999" stroke-width="1.4"/><path d="M401.60,68.20L407.00,61.90L412.40,68.20" fill="none" stroke="#404040" stroke-width="0.85"/><path d="M401.60,68.20H412.40" stroke="#505050" stroke-width="0.8"/>
<line x1="385" y1="80.7" x2="429" y2="80.7" stroke="#b0b0ff" stroke-width="1"/><path d="M407.00,77.70v5.60" stroke="#8080ff" stroke-width="0.9"/>
<text x="434.20" y="41.40" font-size="9.3" text-anchor="start" textLength="87.00" lengthAdjust="spacingAndGlyphs" stroke="#000" stroke-width="0.1">Optimal N=20</text>
<text x="434.20" y="55.60" font-size="9.3" text-anchor="start" textLength="83.40" lengthAdjust="spacingAndGlyphs" stroke="#000" stroke-width="0.1">Greedy N=20</text>
<text x="434.20" y="70.10" font-size="9.3" text-anchor="start" textLength="87.00" lengthAdjust="spacingAndGlyphs" stroke="#000" stroke-width="0.1">Optimal N=40</text>
<text x="434.20" y="84.50" font-size="9.3" text-anchor="start" textLength="83.40" lengthAdjust="spacingAndGlyphs" stroke="#000" stroke-width="0.1">Greedy N=30</text>
<text x="209.59" y="15.00" font-size="10.2" text-anchor="start" textLength="75.42" lengthAdjust="spacingAndGlyphs" stroke="#000" stroke-width="0.16">Comparison</text>
<text x="289.62" y="15.00" font-size="10.2" text-anchor="start" textLength="14.69" lengthAdjust="spacingAndGlyphs" stroke="#000" stroke-width="0.16">for</text>
<text x="310.30" y="15.00" font-size="10.2" text-anchor="start" textLength="67.69" lengthAdjust="spacingAndGlyphs" stroke="#000" stroke-width="0.16">Throughput</text>
<text x="211.60" y="313.00" font-size="10.3" text-anchor="start" textLength="47.83" lengthAdjust="spacingAndGlyphs" stroke="#000" stroke-width="0.16">Number</text>
<text x="266.08" y="313.00" font-size="10.3" text-anchor="start" textLength="10.41" lengthAdjust="spacingAndGlyphs" stroke="#000" stroke-width="0.16">of</text>
<text x="280.33" y="313.00" font-size="10.3" text-anchor="start" textLength="19.88" lengthAdjust="spacingAndGlyphs" stroke="#000" stroke-width="0.16">PU</text>
<text x="304.81" y="313.00" font-size="10.3" text-anchor="start" textLength="55.80" lengthAdjust="spacingAndGlyphs" stroke="#000" stroke-width="0.16">channels</text>
<text x="366.02" y="313.00" font-size="10.3" text-anchor="start" textLength="11.95" lengthAdjust="spacingAndGlyphs" stroke="#000" stroke-width="0.16">M</text>
<text transform="translate(17.7,202.6) rotate(-90)" font-size="10.6" textLength="94.2" lengthAdjust="spacing" stroke="#000" stroke-width="0.28">Achievable throughput</text>
<text x="53.5" y="291.10" font-size="10" text-anchor="end" textLength="19.9" lengthAdjust="spacingAndGlyphs" stroke="#000" stroke-width="0.08">2.5</text>
<text x="53.5" y="258.05" font-size="10" text-anchor="end" textLength="7.0" lengthAdjust="spacingAndGlyphs" stroke="#000" stroke-width="0.08">3</text>
<text x="53.5" y="225.00" font-size="10" text-anchor="end" textLength="19.9" lengthAdjust="spacingAndGlyphs" stroke="#000" stroke-width="0.08">3.5</text>
<text x="53.5" y="191.95" font-size="10" text-anchor="end" textLength="7.0" lengthAdjust="spacingAndGlyphs" stroke="#000" stroke-width="0.08">4</text>
<text x="53.5" y="158.90" font-size="10" text-anchor="end" textLength="19.9" lengthAdjust="spacingAndGlyphs" stroke="#000" stroke-width="0.08">4.5</text>
<text x="53.5" y="125.85" font-size="10" text-anchor="end" textLength="7.0" lengthAdjust="spacingAndGlyphs" stroke="#000" stroke-width="0.08">5</text>
<text x="53.5" y="92.80" font-size="10" text-anchor="end" textLength="19.9" lengthAdjust="spacingAndGlyphs" stroke="#000" stroke-width="0.08">5.5</text>
<text x="53.5" y="59.75" font-size="10" text-anchor="end" textLength="7.0" lengthAdjust="spacingAndGlyphs" stroke="#000" stroke-width="0.08">6</text>
<text x="53.5" y="26.70" font-size="10" text-anchor="end" textLength="19.9" lengthAdjust="spacingAndGlyphs" stroke="#000" stroke-width="0.08">6.5</text>
<text x="54.80" y="299.3" font-size="10.6" textLength="7.0" lengthAdjust="spacingAndGlyphs" stroke="#000" stroke-width="0.08">0</text>
<text x="102.40" y="299.3" font-size="10.6" textLength="7.0" lengthAdjust="spacingAndGlyphs" stroke="#000" stroke-width="0.08">5</text>
<text x="145.60" y="299.3" font-size="10.6" textLength="14.4" lengthAdjust="spacingAndGlyphs" stroke="#000" stroke-width="0.08">10</text>
<text x="193.00" y="299.3" font-size="10.6" textLength="14.4" lengthAdjust="spacingAndGlyphs" stroke="#000" stroke-width="0.08">15</text>
<text x="240.50" y="299.3" font-size="10.6" textLength="14.4" lengthAdjust="spacingAndGlyphs" stroke="#000" stroke-width="0.08">20</text>
<text x="288.90" y="299.3" font-size="10.6" textLength="14.4" lengthAdjust="spacingAndGlyphs" stroke="#000" stroke-width="0.08">25</text>
<text x="336.20" y="299.3" font-size="10.6" textLength="14.4" lengthAdjust="spacingAndGlyphs" stroke="#000" stroke-width="0.08">30</text>
<text x="383.30" y="299.3" font-size="10.6" textLength="14.4" lengthAdjust="spacingAndGlyphs" stroke="#000" stroke-width="0.08">35</text>
<text x="431.80" y="299.3" font-size="10.6" textLength="14.4" lengthAdjust="spacingAndGlyphs" stroke="#000" stroke-width="0.08">40</text>
<text x="478.80" y="299.3" font-size="10.6" textLength="14.4" lengthAdjust="spacingAndGlyphs" stroke="#000" stroke-width="0.08">45</text>
<text x="527.30" y="299.3" font-size="10.6" textLength="14.4" lengthAdjust="spacingAndGlyphs" stroke="#000" stroke-width="0.08">50</text>
</svg></body></html>
